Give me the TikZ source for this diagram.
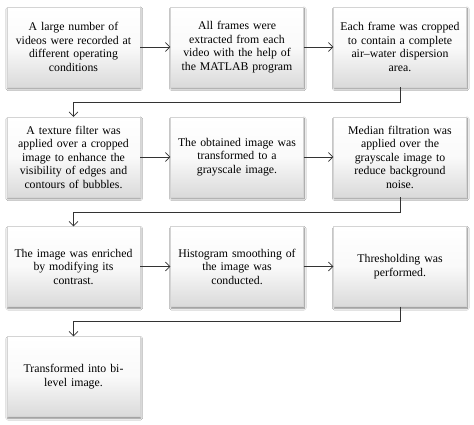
\documentclass[tikz,border=0pt]{standalone}
\usepackage{fontspec}
\setmainfont{Liberation Serif}
\usetikzlibrary{arrows.meta,shadows.blur}
\definecolor{boxline}{HTML}{D4D4D4}
\definecolor{boxbottom}{HTML}{DADADA}
\definecolor{connline}{HTML}{333333}
\tikzset{
  stepbox/.style={draw=boxline, line width=0.4pt, top color=white, bottom color=boxbottom,
    middle color=white!85!boxbottom,
    minimum width=133pt, minimum height=80pt, text width=130pt, align=center, inner sep=0pt,
    font=\fontsize{11.8}{13.5}\selectfont,
    blur shadow={shadow xshift=0.8pt, shadow yshift=-1.8pt, shadow blur steps=6, shadow opacity=50}},
  conn/.style={draw=connline, line width=0.7pt, -{Straight Barb[length=4.5pt,width=9pt,line width=0.7pt]}}
}
\begin{document}
\begin{tikzpicture}[x=1pt,y=1pt]
\useasboundingbox (0,0) rectangle (474,424);
\fill[white] (0,0) rectangle (474,424);
\node[stepbox] (a1) at (73.5,377) {A large number of\\videos were recorded at\\different operating\\conditions};
\node[stepbox] (a2) at (237,377) {All frames were\\extracted from each\\video with the help of\\the MATLAB program};
\node[stepbox] (a3) at (400,377) {Each frame was cropped\\to contain a complete\\air--water dispersion\\area.};
\node[stepbox] (b1) at (73.5,267) {A texture filter was\\applied over a cropped\\image to enhance the\\visibility of edges and\\contours of bubbles.};
\node[stepbox] (b2) at (237,267) {The obtained image was\\transformed to a\\grayscale image.};
\node[stepbox] (b3) at (400,267) {Median filtration was\\applied over the\\grayscale image to\\reduce background\\noise.};
\node[stepbox] (c1) at (73.5,157.5) {The image was enriched\\by modifying its\\contrast.};
\node[stepbox] (c2) at (237,157.5) {Histogram smoothing of\\the image was\\conducted.};
\node[stepbox] (c3) at (400,157.5) {Thresholding was\\performed.};
\node[stepbox] (d1) at (73.5,47.5) {Transformed into bi-\\level image.};
\draw[conn] (a1.east) -- (a2.west);
\draw[conn] (a2.east) -- (a3.west);
\draw[conn] (b1.east) -- (b2.west);
\draw[conn] (b2.east) -- (b3.west);
\draw[conn] (c1.east) -- (c2.west);
\draw[conn] (c2.east) -- (c3.west);
\draw[conn] (a3.south) -- ++(0,-15) -| (b1.north);
\draw[conn] (b3.south) -- ++(0,-15) -| (c1.north);
\draw[conn] (c3.south) -- ++(0,-14.5) -| (d1.north);
\end{tikzpicture}
\end{document}
